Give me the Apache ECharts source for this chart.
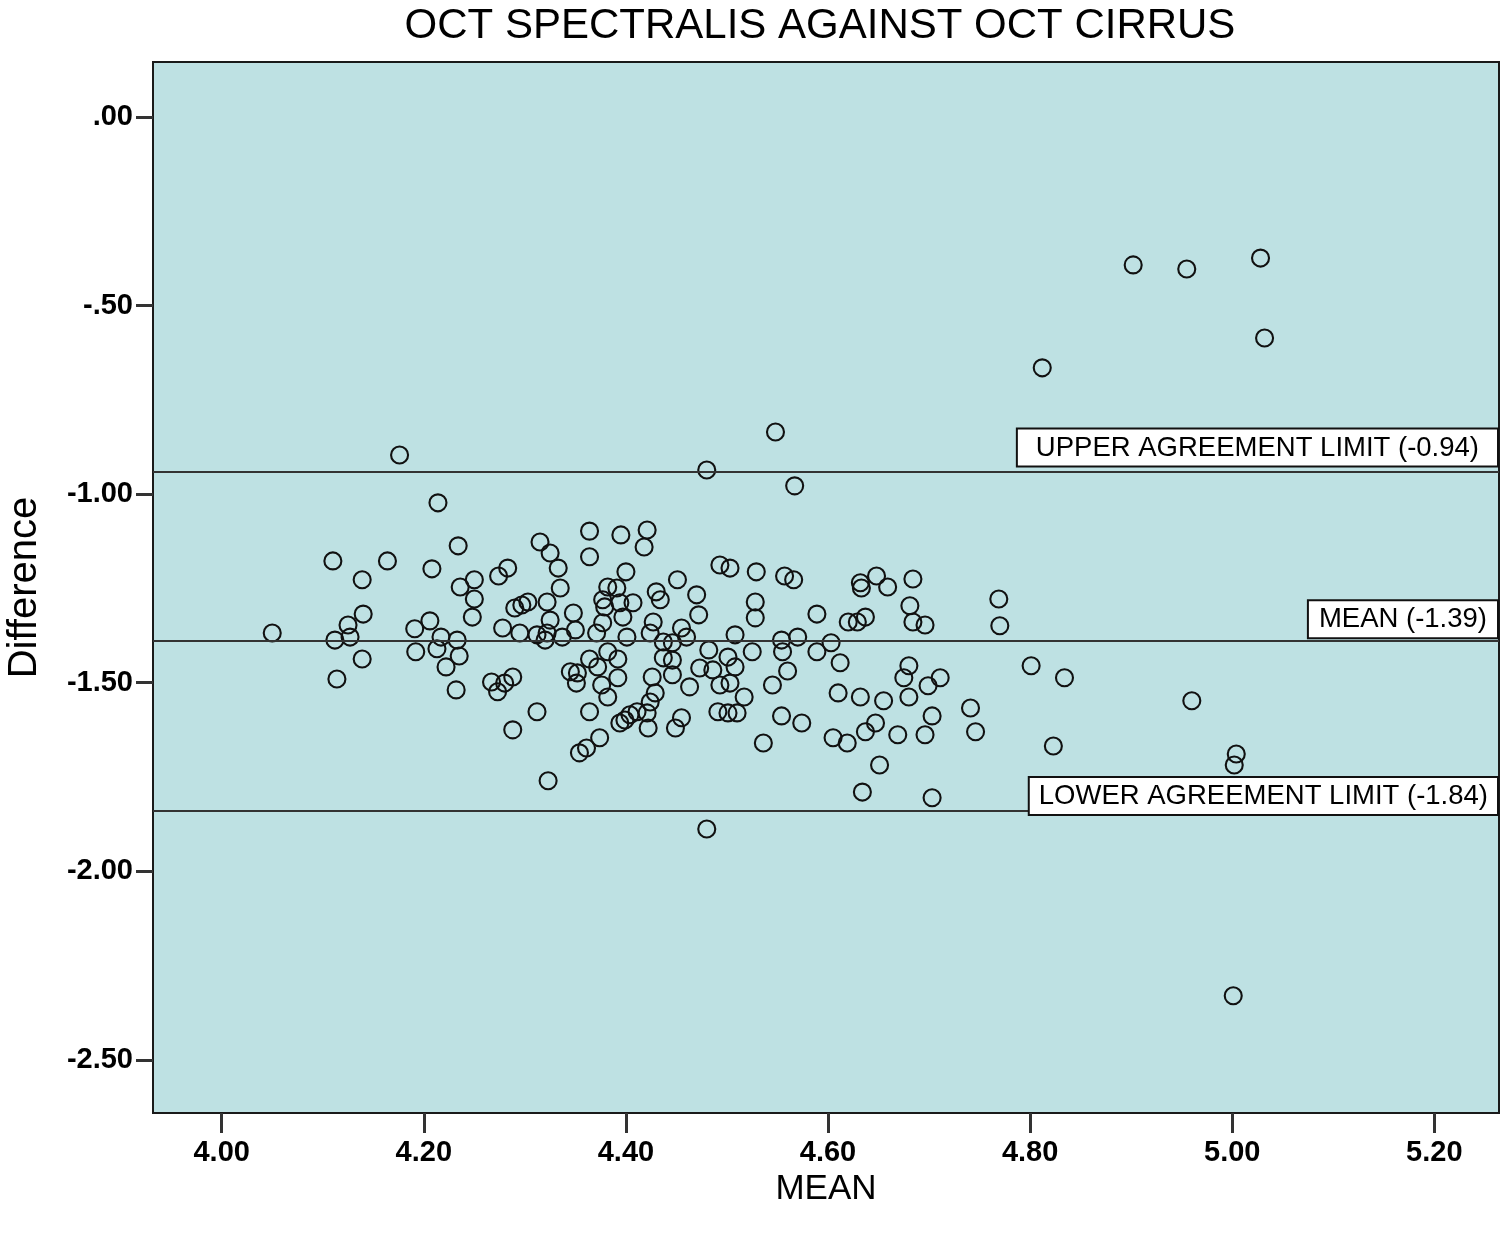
<!DOCTYPE html>
<html>
<head>
<meta charset="utf-8">
<script src="https://cdn.jsdelivr.net/npm/echarts@6/dist/echarts.min.js"></script>
<style>
html,body{margin:0;padding:0;background:#fff;}
#chart{width:1508px;height:1234px;}
</style>
</head>
<body>
<div id="chart"></div>
<script>
// ---- data ----
var titleText = 'OCT SPECTRALIS AGAINST OCT CIRRUS';
var xTicks = [4.00, 4.20, 4.40, 4.60, 4.80, 5.00, 5.20];
var yTicks = [0, -0.5, -1.0, -1.5, -2.0, -2.5];
var limitValues = [-0.94, -1.386, -1.84];
var limitLabels = ['UPPER AGREEMENT LIMIT (-0.94)', 'MEAN (-1.39)', 'LOWER AGREEMENT LIMIT (-1.84)'];
var meanValues = [
4.050,4.110,4.164,4.139,4.140,4.125,4.112,4.127,4.139,4.114,
4.214,4.234,4.208,4.236,4.250,4.250,4.248,4.191,4.206,4.217,
4.233,4.192,4.213,4.235,4.222,4.232,4.267,4.273,4.274,4.278,
4.176,4.315,4.325,4.333,4.335,4.364,4.364,4.395,4.421,4.418,
4.283,4.297,4.303,4.290,4.322,4.295,4.325,4.322,4.320,4.337,
4.348,4.350,4.312,4.400,4.382,4.391,4.377,4.394,4.407,4.379,
4.397,4.377,4.401,4.371,4.427,4.424,4.430,4.434,4.451,4.470,
4.472,4.455,4.460,4.437,4.446,4.437,4.446,4.446,4.463,4.473,
4.482,4.486,4.493,4.503,4.508,4.501,4.508,4.493,4.503,4.491,
4.501,4.510,4.382,4.364,4.392,4.372,4.345,4.352,4.351,4.392,
4.376,4.382,4.426,4.429,4.424,4.421,4.411,4.404,4.399,4.394,
4.422,4.455,4.449,4.312,4.364,4.288,4.374,4.361,4.354,4.323,
4.280,4.288,4.529,4.557,4.566,4.528,4.528,4.589,4.632,4.633,
4.648,4.659,4.684,4.681,4.684,4.696,4.620,4.629,4.637,4.769,
4.770,4.525,4.554,4.570,4.555,4.589,4.603,4.612,4.560,4.545,
4.517,4.554,4.574,4.536,4.610,4.632,4.655,4.680,4.675,4.699,
4.711,4.680,4.703,4.741,4.746,4.605,4.619,4.637,4.647,4.669,
4.696,4.651,4.634,4.703,4.480,4.548,4.567,4.902,4.955,5.028,
5.032,4.812,4.801,4.834,4.823,4.960,5.004,5.002,5.001,4.480
];
var diffValues = [
-1.368,-1.177,-1.177,-1.227,-1.318,-1.347,-1.387,-1.379,-1.437,-1.490,
-1.023,-1.137,-1.198,-1.246,-1.227,-1.278,-1.326,-1.357,-1.336,-1.379,
-1.387,-1.418,-1.410,-1.429,-1.458,-1.519,-1.498,-1.524,-1.217,-1.355,
-0.896,-1.127,-1.156,-1.196,-1.249,-1.098,-1.166,-1.108,-1.095,-1.140,
-1.196,-1.294,-1.286,-1.302,-1.286,-1.368,-1.334,-1.368,-1.387,-1.379,
-1.315,-1.360,-1.373,-1.206,-1.246,-1.249,-1.280,-1.288,-1.288,-1.299,
-1.326,-1.341,-1.379,-1.368,-1.339,-1.368,-1.259,-1.280,-1.227,-1.267,
-1.320,-1.355,-1.379,-1.392,-1.394,-1.434,-1.440,-1.479,-1.511,-1.461,
-1.413,-1.466,-1.188,-1.196,-1.373,-1.432,-1.458,-1.506,-1.501,-1.577,
-1.580,-1.580,-1.418,-1.437,-1.437,-1.458,-1.471,-1.474,-1.501,-1.487,
-1.506,-1.538,-1.485,-1.527,-1.551,-1.580,-1.577,-1.585,-1.599,-1.607,
-1.620,-1.593,-1.620,-1.577,-1.577,-1.625,-1.646,-1.673,-1.686,-1.760,
-1.501,-1.485,-1.206,-1.217,-1.227,-1.286,-1.328,-1.318,-1.235,-1.249,
-1.217,-1.246,-1.225,-1.296,-1.339,-1.347,-1.339,-1.339,-1.326,-1.278,
-1.349,-1.418,-1.387,-1.379,-1.418,-1.418,-1.394,-1.447,-1.469,-1.506,
-1.538,-1.588,-1.607,-1.660,-1.527,-1.538,-1.548,-1.455,-1.487,-1.508,
-1.487,-1.538,-1.588,-1.567,-1.630,-1.646,-1.660,-1.630,-1.607,-1.638,
-1.638,-1.718,-1.790,-1.805,-0.936,-0.835,-0.978,-0.392,-0.403,-0.374,
-0.586,-0.665,-1.455,-1.487,-1.668,-1.548,-1.689,-1.718,-2.330,-1.888
];

// ---- build ----
var points = meanValues.map(function (x, i) { return [x, diffValues[i]]; });
var labelDist = [[2, 6], [2, 4], [2, -3]];
var labelPad = [[4, 18, 3, 18], [4, 10, 3, 10], [4, 9, 3, 9]];
var markData = limitValues.map(function (v, i) {
  return {
    yAxis: v,
    label: { formatter: limitLabels[i], distance: labelDist[i], padding: labelPad[i] }
  };
});
function yFmt(v) {
  var s = Number(v).toFixed(2);
  if (s === '0.00' || s === '-0.00') return '.00';
  return s.replace(/^(-?)0\./, '$1.');
}
var FONT = '"Liberation Sans", Arial, Helvetica, sans-serif';
var chart = echarts.init(document.getElementById('chart'), null, { renderer: 'canvas' });
chart.setOption({
  backgroundColor: '#ffffff',
  animation: false,
  title: {
    text: titleText,
    left: 815, top: 0, textAlign: 'center',
    textStyle: { fontFamily: FONT, fontSize: 42, fontWeight: 'normal', color: '#000' }
  },
  grid: {
    left: 153, right: 9, top: 62, bottom: 121,
    containLabel: false, outerBoundsMode: 'none',
    show: true, backgroundColor: '#bee1e3', borderColor: '#1a1a1a', borderWidth: 2
  },
  xAxis: {
    type: 'value', min: 3.932, max: 5.264,
    name: 'MEAN', nameLocation: 'middle', nameGap: 58,
    nameTextStyle: { fontFamily: FONT, fontSize: 35, color: '#000' },
    axisLine: { show: true, onZero: false, lineStyle: { color: '#1a1a1a', width: 2 } },
    axisTick: { show: true, customValues: xTicks, length: 20, lineStyle: { color: '#333', width: 3 } },
    axisLabel: { customValues: xTicks, margin: 25, fontFamily: FONT, fontSize: 29, fontWeight: 'bold', color: '#000',
      formatter: function (v) { return Number(v).toFixed(2); } },
    splitLine: { show: false }
  },
  yAxis: {
    type: 'value', min: -2.641, max: 0.146,
    name: 'Difference', nameLocation: 'middle', nameGap: 108, nameRotate: 90,
    nameTextStyle: { fontFamily: FONT, fontSize: 40, color: '#000' },
    axisLine: { show: true, onZero: false, lineStyle: { color: '#1a1a1a', width: 2 } },
    axisTick: { show: true, customValues: yTicks, length: 17, lineStyle: { color: '#333', width: 3 } },
    axisLabel: { customValues: yTicks, margin: 20, fontFamily: FONT, fontSize: 29, fontWeight: 'bold', color: '#000',
      formatter: yFmt },
    splitLine: { show: false }
  },
  series: [{
    type: 'scatter',
    data: points,
    symbol: 'circle',
    symbolSize: 17,
    silent: true,
    itemStyle: { color: 'rgba(0,0,0,0)', borderColor: '#111', borderWidth: 2.1, opacity: 1 },
    markLine: {
      silent: true,
      symbol: 'none',
      animation: false,
      lineStyle: { color: '#333', width: 2, type: 'solid' },
      label: {
        show: true, position: 'insideEndTop',
        fontFamily: FONT, fontSize: 27.5, color: '#000',
        backgroundColor: '#fff', borderColor: '#111', borderWidth: 2,
        lineHeight: 29
      },
      data: markData
    }
  }]
});
</script>
</body>
</html>
